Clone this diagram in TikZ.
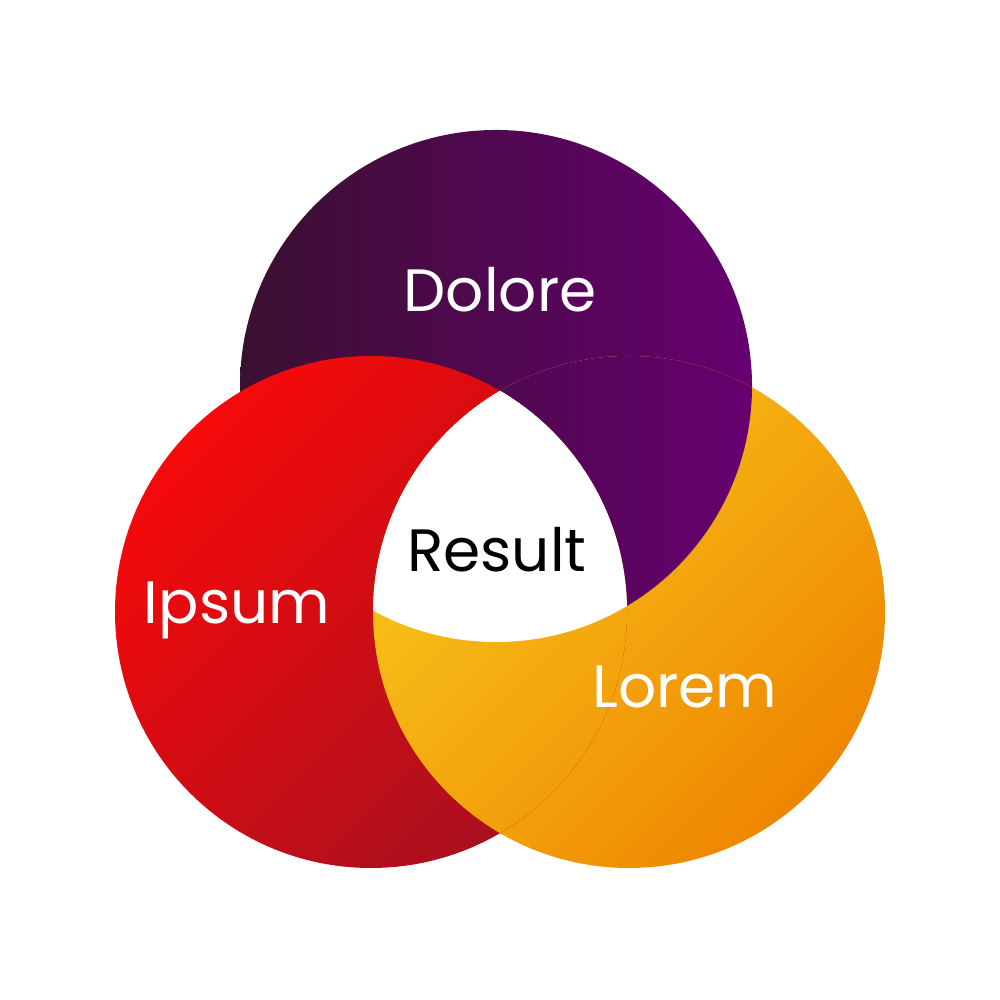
\documentclass[tikz,border=0pt]{standalone}
\usepackage{fontspec}
\setmainfont{Poppins}
\definecolor{pL}{HTML}{3A1030}\definecolor{pR}{HTML}{660070}
\definecolor{rA}{HTML}{F60A0A}\definecolor{rB}{HTML}{A8101F}
\definecolor{oA}{HTML}{F9C81C}\definecolor{oB}{HTML}{EE8600}
\tikzset{
 purp/.style={left color=pL,right color=pR},
 redd/.style={top color=rA,bottom color=rB,shading angle=45},
 oran/.style={top color=oA,bottom color=oB,shading angle=45},
 lab/.style={font=\fontsize{17}{20}\selectfont,text=white}
}
\begin{document}
\begin{tikzpicture}
\useasboundingbox (0,0) rectangle (10,10);
\def\P{(4.96,6.14) circle (2.56)}
\def\R{(3.71,3.88) circle (2.56)}
\def\O{(6.29,3.88) circle (2.56)}
\shade[purp] \P;
\shade[oran] \O;
\shade[redd] \R;
\begin{scope}\clip \O; \shade[purp] \P;\end{scope}
\begin{scope}\clip \R; \shade[oran] \O;\end{scope}
\begin{scope}\clip \P; \clip \R; \fill[white] \O;\end{scope}
\node[lab] (d) at (5.0,7.1) {Dolore};
\node[lab] (i) at (2.37,3.9) {Ipsum};
\node[lab] (l) at (6.85,3.13) {Lorem};
\node[lab,text=black] (r) at (4.97,4.5) {Result};
\end{tikzpicture}
\end{document}
